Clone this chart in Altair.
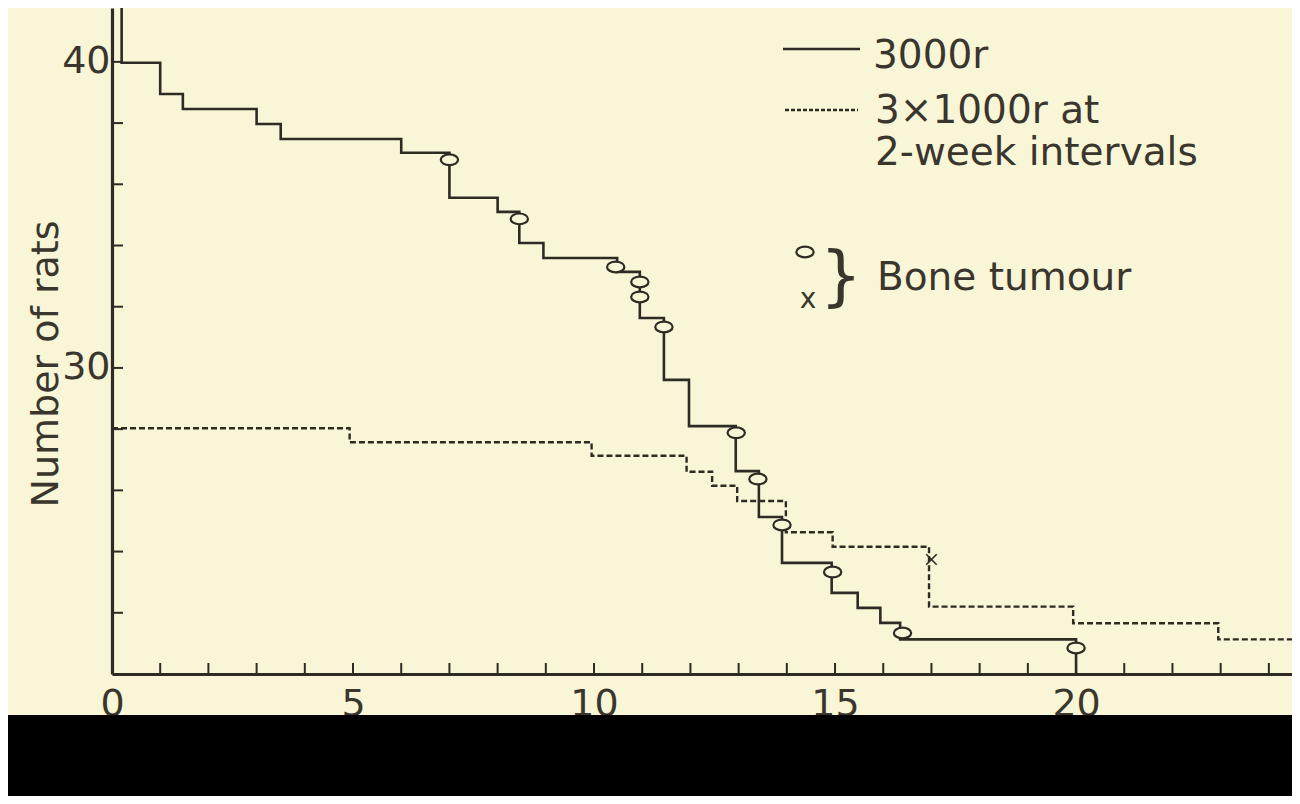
import altair as alt
import pandas as pd

# ---- data ----
solid_x = [0, 0.2, 1.0, 1.47, 3.0, 3.5, 6.0, 7.0, 8.0, 8.45, 8.95, 10.48, 10.95, 11.45,
           11.97, 12.94, 13.42, 13.9, 14.93, 15.47, 15.94, 16.35, 20.0]
solid_y = [42, 39.97, 38.95, 38.46, 37.97, 37.48, 37.03, 35.56, 35.1, 34.08, 33.59, 33.14,
           31.63, 29.61, 28.1, 26.63, 25.13, 23.63, 22.65, 22.16, 21.67, 21.13, 20.0]

dash_x = [0, 4.93, 9.95, 11.92, 12.45, 12.97, 13.98, 14.95, 16.95, 19.94, 22.95, 24.48]
dash_y = [28.03, 27.57, 27.13, 26.61, 26.15, 25.65, 24.63, 24.16, 22.2, 21.66, 21.13, 21.13]

circle_x = [7.0, 8.45, 10.45, 10.95, 10.95, 11.45, 12.95, 13.4, 13.9, 14.95, 16.4, 20.0]
circle_y = [36.8, 34.87, 33.3, 32.81, 32.32, 31.34, 27.88, 26.37, 24.87, 23.33, 21.34, 20.85]

cross_x = [17.0]
cross_y = [23.74]

x_ticks = list(range(1, 25))
y_ticks = [22, 24, 26, 28, 30, 32, 34, 36, 38, 40]
x_labels = [0, 5, 10, 15, 20]
y_labels = [30, 40]

legend_texts = ["3000r", "3×1000r at", "2-week intervals", "Bone tumour"]
y_title = "Number of rats"

# ---- styling ----
BG = "#f9f6d8"
INK = "#2e2a24"
TXT = "#3a352d"
FONT = "DejaVu Sans"
W, H = 1180, 666
XDOM = [0, 24.48]
YDOM = [20, 41.76]
ELLIPSE = "M-1,0 A1,0.62 0 1,1 1,0 A1,0.62 0 1,1 -1,0 Z"
XMARK = "M-1,-1L1,1M1,-1L-1,1"

xs = alt.Scale(domain=XDOM, nice=False, zero=False)
ys = alt.Scale(domain=YDOM, nice=False, zero=False)

solid_df = pd.DataFrame({"x": solid_x, "y": solid_y})
dash_df = pd.DataFrame({"x": dash_x, "y": dash_y})
circ_df = pd.DataFrame({"x": circle_x, "y": circle_y})
cross_df = pd.DataFrame({"x": cross_x, "y": cross_y})
xt_df = pd.DataFrame({"x": x_ticks})
yt_df = pd.DataFrame({"y": y_ticks})
one = pd.DataFrame({"a": [0]})

x_axis = alt.Axis(values=x_labels, title=None, grid=False, ticks=False, tickSize=0,
                  labelFont=FONT, labelFontSize=38, labelColor=TXT, labelPadding=11,
                  domainColor=INK, domainWidth=3.2, labelFlush=False, zindex=0)
y_axis = alt.Axis(values=y_labels, title=None, grid=False, ticks=False, tickSize=0,
                  labelFont=FONT, labelFontSize=38, labelColor=TXT, labelPadding=2,
                  domainColor=INK, domainWidth=3.2, zindex=0)

solid = alt.Chart(solid_df).mark_line(interpolate="step-after", color=INK, strokeWidth=2.6).encode(
    x=alt.X("x:Q", scale=xs, axis=x_axis),
    y=alt.Y("y:Q", scale=ys, axis=y_axis),
)

dashed = alt.Chart(dash_df).mark_line(interpolate="step-after", color=INK, strokeWidth=2.4,
                                      strokeDash=[6, 3]).encode(
    x=alt.X("x:Q", scale=xs),
    y=alt.Y("y:Q", scale=ys),
)

xticks = alt.Chart(xt_df).mark_rule(color=INK, strokeWidth=2.0).encode(
    x=alt.X("x:Q", scale=xs), y=alt.value(H), y2=alt.value(H - 11)
)
yticks = alt.Chart(yt_df).mark_rule(color=INK, strokeWidth=2.0).encode(
    y=alt.Y("y:Q", scale=ys), x=alt.value(0), x2=alt.value(11)
)

circles = alt.Chart(circ_df).mark_point(shape=ELLIPSE, size=300, fill=BG, fillOpacity=1,
                                        stroke=INK, strokeWidth=2.2, opacity=1).encode(
    x=alt.X("x:Q", scale=xs), y=alt.Y("y:Q", scale=ys)
)
crosses = alt.Chart(cross_df).mark_point(shape=XMARK, size=110, stroke=INK, strokeWidth=1.6,
                                         filled=False, opacity=1).encode(
    x=alt.X("x:Q", scale=xs), y=alt.Y("y:Q", scale=ys)
)

def txt(text, x, y, size=39, baseline="alphabetic", align="left", angle=0):
    return alt.Chart(one).mark_text(text=text, font=FONT, fontSize=size, color=TXT,
                                    baseline=baseline, align=align, angle=angle).encode(
        x=alt.value(x), y=alt.value(y))

leg_solid = alt.Chart(one).mark_rule(color=INK, strokeWidth=2.6).encode(
    x=alt.value(671), x2=alt.value(748), y=alt.value(41))
leg_dash = alt.Chart(one).mark_rule(color=INK, strokeWidth=2.4, strokeDash=[4, 2]).encode(
    x=alt.value(673), x2=alt.value(746), y=alt.value(102))
leg_circ = alt.Chart(one).mark_point(shape=ELLIPSE, size=300, fill=BG, fillOpacity=1,
                                     stroke=INK, strokeWidth=2.2, opacity=1).encode(
    x=alt.value(693), y=alt.value(244))

band = alt.Chart(one).mark_rect(color="#000000").encode(
    x=alt.value(-104), x2=alt.value(W), y=alt.value(707), y2=alt.value(790))

chart = alt.layer(
    dashed, solid, xticks, yticks, circles, crosses,
    leg_solid, leg_dash, leg_circ,
    txt(legend_texts[0], 761, 60),
    txt(legend_texts[1], 763, 115),
    txt(legend_texts[2], 763, 157),
    txt(legend_texts[3], 765, 282),
    txt("x", 696, 292, size=28, baseline="middle", align="center"),
    txt("}", 729, 270, size=66, baseline="middle", align="center"),
    txt(y_title, -65, 356, size=38, baseline="middle", align="center", angle=270),
    band,
).properties(
    width=W, height=H,
    background=BG,
    padding={"left": 104, "top": 0, "right": 0, "bottom": 122},
    autosize=alt.AutoSizeParams(type="none"),
).configure_view(stroke=None)

chart.save("out.html", embed_options={"renderer": "svg", "actions": False})
